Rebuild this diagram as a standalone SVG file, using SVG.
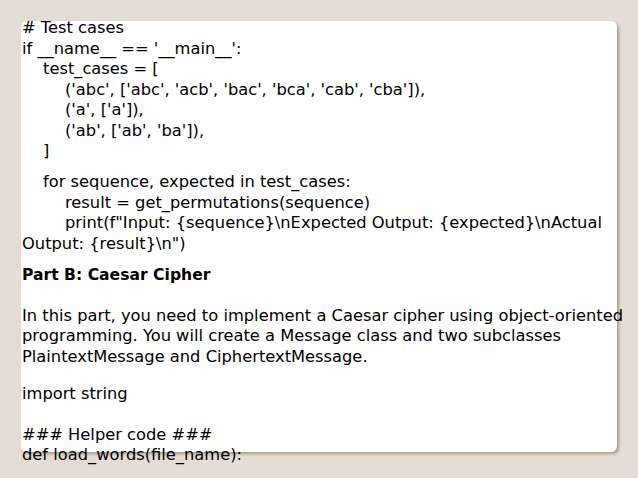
<svg xmlns="http://www.w3.org/2000/svg" width="638" height="478" viewBox="0 0 638 478">
<defs><filter id="sh" x="-5%" y="-5%" width="110%" height="110%"><feDropShadow dx="2" dy="2" stdDeviation="1.5" flood-color="#8a8070" flood-opacity="0.7"/></filter></defs>
<style>text{font-family:"DejaVu Sans",Verdana,sans-serif;font-size:16.3px;fill:#000}.b{font-weight:bold;font-size:15.6px}</style>
<rect width="638" height="478" fill="#e4ddd3"/>
<rect x="21" y="21" width="596" height="431" rx="6" fill="#fff" filter="url(#sh)"/>
<g id="text">
<text x="22" y="33">&#35; Test cases</text>
<text x="22" y="54">if __name__ == '__main__':</text>
<text x="43" y="74">test_cases = [</text>
<text x="65" y="95">('abc', ['abc', 'acb', 'bac', 'bca', 'cab', 'cba']),</text>
<text x="65" y="115">('a', ['a']),</text>
<text x="65" y="136">('ab', ['ab', 'ba']),</text>
<text x="43" y="156">]</text>
<text x="43" y="187">for sequence, expected in test_cases:</text>
<text x="65" y="208">result = get_permutations(sequence)</text>
<text x="65" y="228">print(f"Input: {sequence}\nExpected Output: {expected}\nActual</text>
<text x="22" y="249">Output: {result}\n")</text>
<text x="22" y="280" class="b">Part B: Caesar Cipher</text>
<text x="22" y="321">In this part, you need to implement a Caesar cipher using object-oriented</text>
<text x="22" y="341">programming. You will create a Message class and two subclasses</text>
<text x="22" y="362">PlaintextMessage and CiphertextMessage.</text>
<text x="22" y="399">import string</text>
<text x="22" y="440">### Helper code ###</text>
<text x="22" y="460">def load_words(file_name):</text>
</g>
</svg>
